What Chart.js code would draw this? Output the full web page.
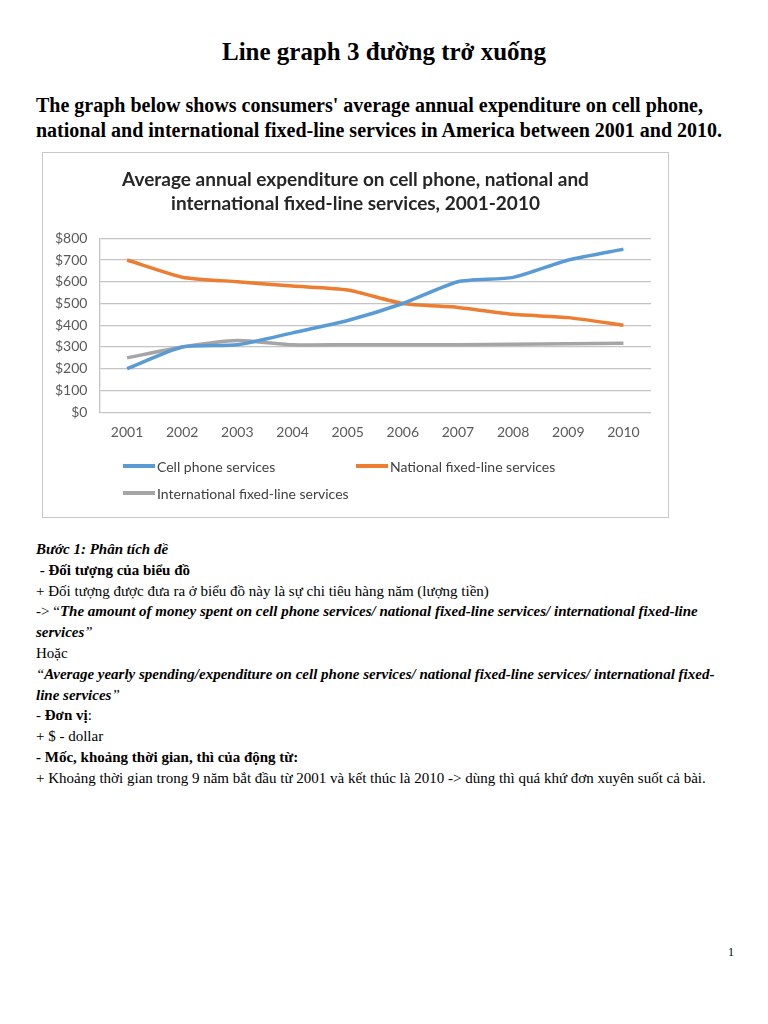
<!DOCTYPE html>
<html>
<head>
<meta charset="utf-8">
<script src="https://cdn.jsdelivr.net/npm/chart.js@4/dist/chart.umd.min.js"></script>
<style>
body{margin:0;background:#fff;width:768px;height:1024px;position:relative;font-family:"Liberation Serif",serif;color:#000;overflow:hidden}
#h1{position:absolute;top:36px;left:0;width:768px;text-align:center;font-weight:bold;font-size:25px;line-height:32px}
#q{position:absolute;left:36px;top:93px;font-weight:bold;font-size:20px;line-height:25px;white-space:nowrap}
#box{position:absolute;left:42px;top:152px;width:625px;height:364px;border:1.5px solid #c8c8c8}
#box canvas{display:block}
#notes{position:absolute;left:36px;top:539px;font-size:15px;line-height:20.8px;white-space:nowrap}
#pg{position:absolute;left:728px;top:945px;font-size:12px}
</style>
</head>
<body>
<div id="h1">Line graph 3 đường trở xuống</div>
<div id="q">The graph below shows consumers' average annual expenditure on cell phone,<br>national and international fixed-line services in America between 2001 and 2010.</div>
<div id="box"><canvas id="myChart" width="625" height="364"></canvas></div>
<div id="notes">
<b><i>Bước 1: Phân tích đề</i></b><br>
<b>&nbsp;- Đối tượng của biểu đồ</b><br>
+ Đối tượng được đưa ra ở biểu đồ này là sự chi tiêu hàng năm (lượng tiền)<br>
-&gt; “<b><i>The amount of money spent on cell phone services/ national fixed-line services/ international fixed-line</i></b><br>
<b><i>services</i></b><i>”</i><br>
Hoặc<br>
<i>“</i><b><i>Average yearly spending/expenditure on cell phone services/ national fixed-line services/ international fixed-</i></b><br>
<b><i>line services</i></b><i>”</i><br>
- <b>Đơn vị</b>:<br>
+ $ - dollar<br>
<b>- Mốc, khoảng thời gian, thì của động từ:</b><br>
+ Khoảng thời gian trong 9 năm bắt đầu từ 2001 và kết thúc là 2010 -&gt; dùng thì quá khứ đơn xuyên suốt cả bài.
</div>
<div id="pg">1</div>
<script>
const years = ["2001","2002","2003","2004","2005","2006","2007","2008","2009","2010"]
const cellPhone = [200,300,310,365,422,500,600,620,700,750]
const nationalFixed = [700,621,600,580,562,500,482,450,435,400]
const internationalFixed = [250,300,330,310,310,310,310,312,315,317]
const seriesNames = ["Cell phone services","National fixed-line services","International fixed-line services"]
const seriesColors = ["#5b9bd5","#ed7d31","#a5a5a5"]

// legend drawn in two columns like the Excel original
const docLegend = {
id:"docLegend",
afterDraw(chart){
const ctx = chart.ctx
const top = chart.scales.x.bottom + 13
const spots = [[80,0],[313,0],[80,1]]
ctx.save()
ctx.font = "14px Lato"
ctx.textBaseline = "middle"
chart.data.datasets.forEach((ds,i)=>{
const x = spots[i][0]
const y = top + spots[i][1]*27
ctx.strokeStyle = ds.borderColor
ctx.lineWidth = 4
ctx.beginPath()
ctx.moveTo(x,y)
ctx.lineTo(x+32,y)
ctx.stroke()
ctx.fillStyle = "#404040"
ctx.fillText(ds.label,x+34,y+1)
})
ctx.restore()
}
}

const seriesData = [cellPhone,nationalFixed,internationalFixed]

new Chart(
document.getElementById("myChart"),
{
type:"line",
data:{
labels:years,
datasets:seriesData.map((d,i)=>({
label:seriesNames[i],
data:d,
borderColor:seriesColors[i],
backgroundColor:seriesColors[i],
borderWidth:3.5,
pointRadius:0,
tension:0.2
}))
},
options:{
responsive:false,
animation:false,
devicePixelRatio:1,
layout:{padding:{left:0,right:0,bottom:64}},
plugins:{
legend:{display:false},
tooltip:{enabled:false},
title:{
display:true,
text:["Average annual expenditure on cell phone, national and","international fixed-line services, 2001-2010"],
color:"#262626",
font:{family:"Lato",size:19,weight:"bold",lineHeight:1.27},
padding:{top:15,bottom:22}
}
},
scales:{
x:{
offset:true,
grid:{display:false,drawTicks:false},
border:{display:false},
ticks:{color:"#595959",font:{family:"Lato",size:14},padding:12,maxRotation:0,autoSkip:false}
},
y:{
min:0,
max:800,
ticks:{stepSize:100,color:"#595959",font:{family:"Lato",size:14},padding:12,callback:v=>"$"+v},
grid:{color:"#c4c4c4",lineWidth:1.3,drawTicks:false},
border:{display:true,color:"#c4c4c4",width:1.3}
},
// empty right margin so the title stays centred on the whole box
yRight:{
position:"right",
grid:{display:false,drawTicks:false},
border:{display:false},
ticks:{display:false},
afterFit(scale){scale.width=17}
}
}
},
plugins:[docLegend]
}
)
</script>
</body>
</html>
